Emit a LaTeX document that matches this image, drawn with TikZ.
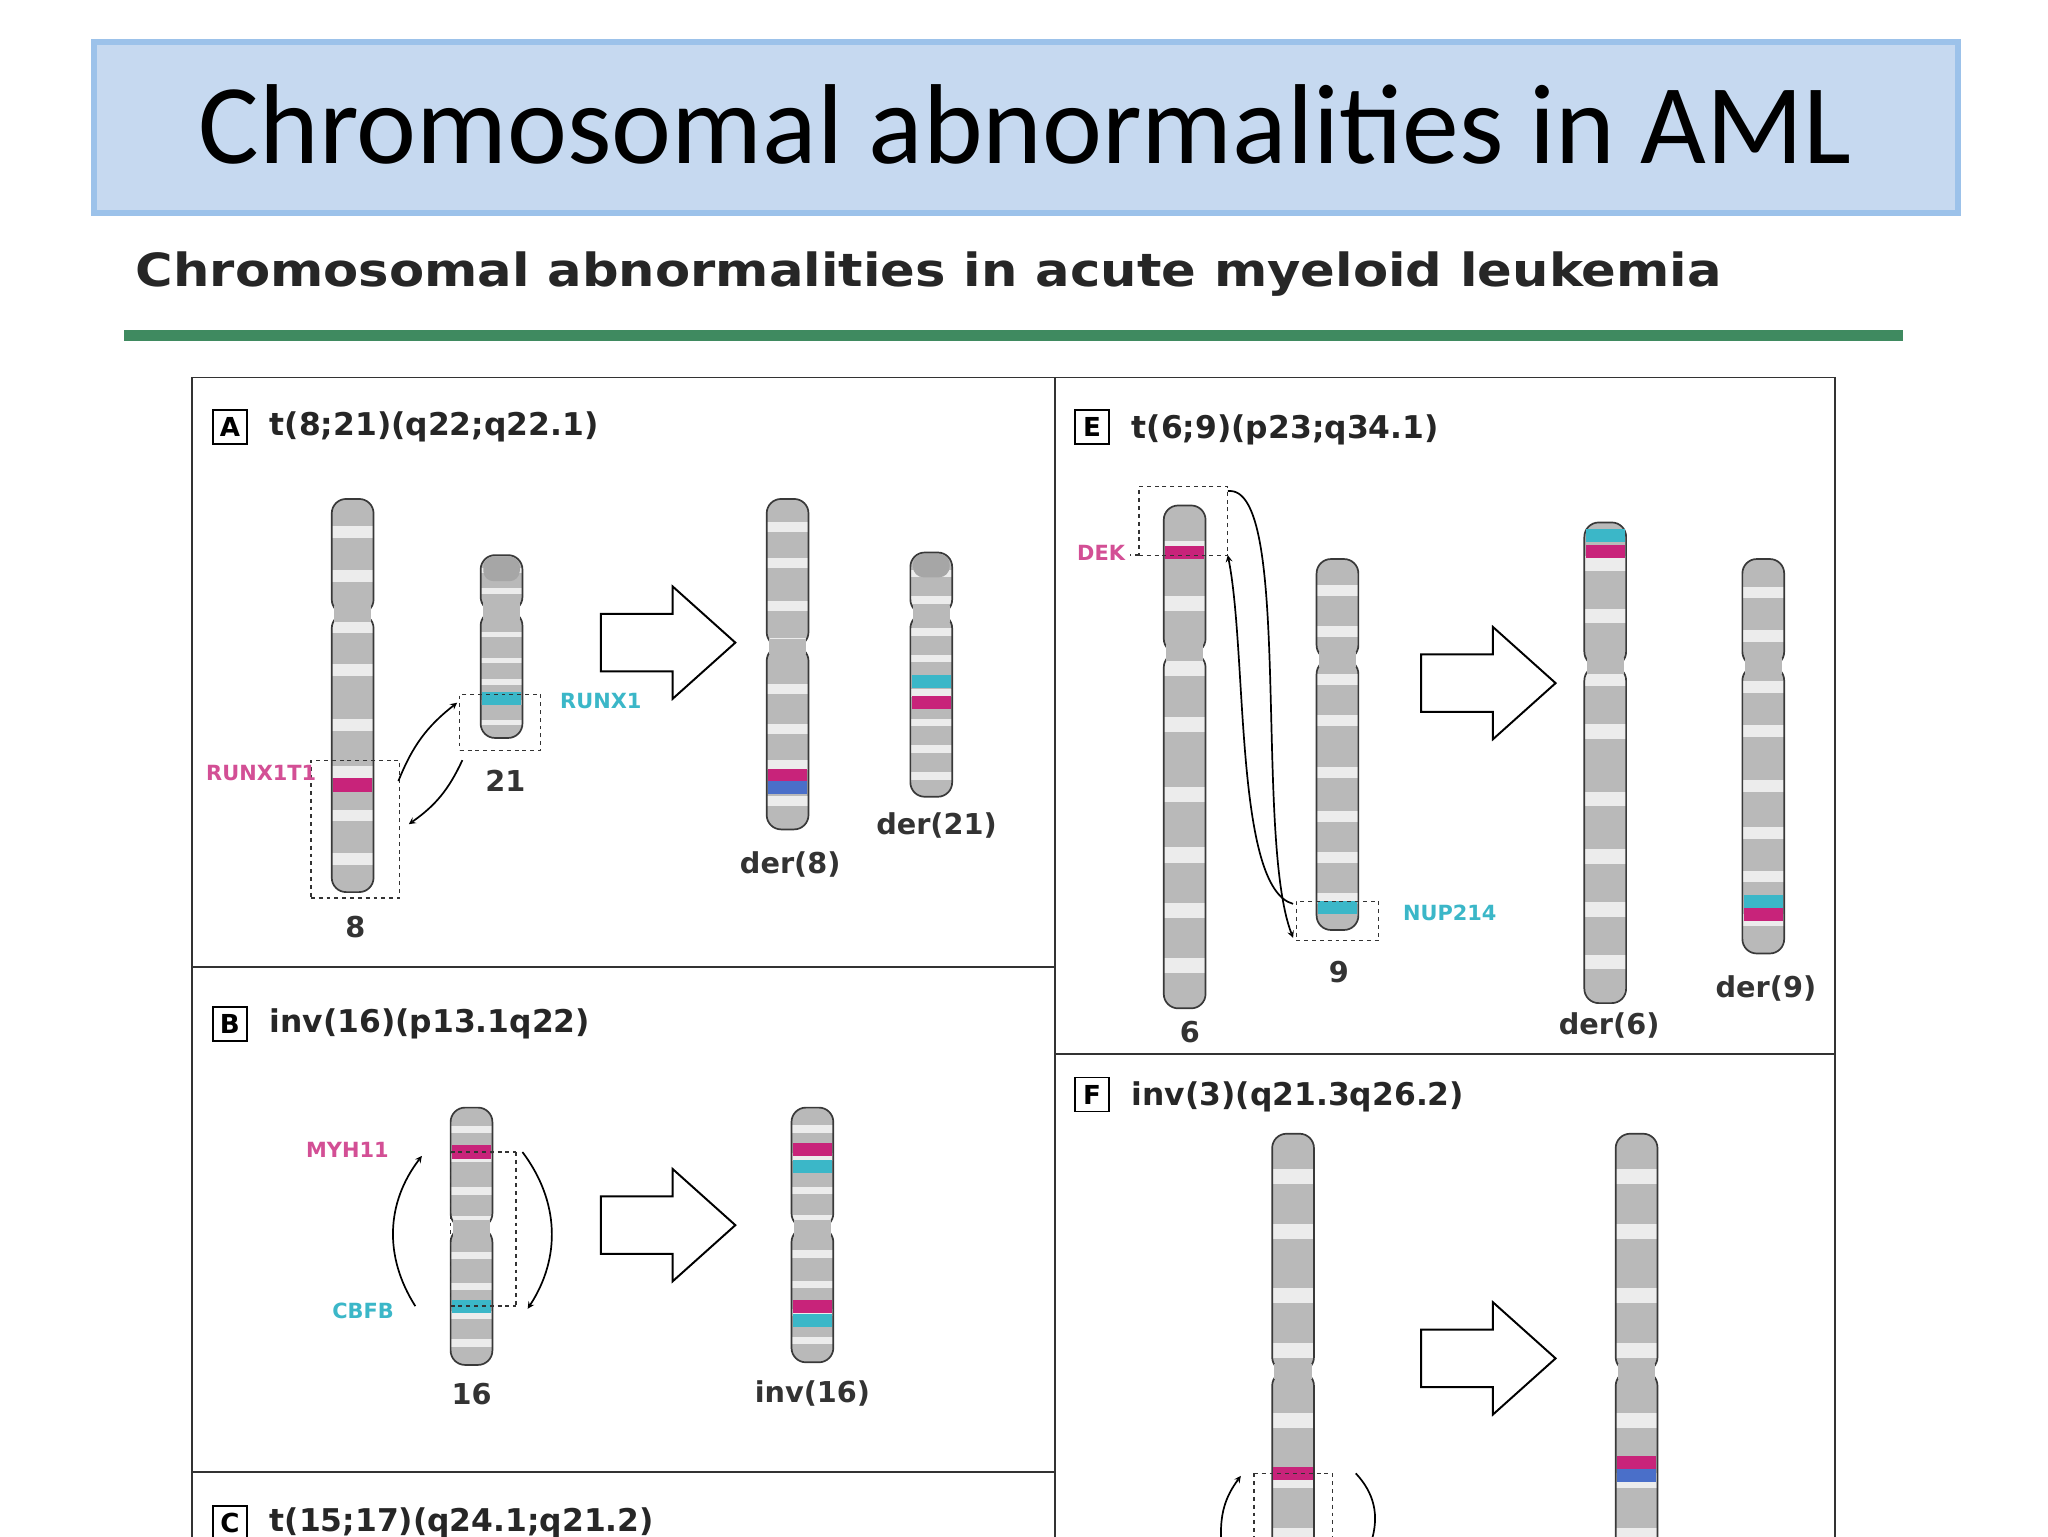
\documentclass[tikz,border=0pt]{standalone}
\usepackage{fontspec}
\setmainfont{DejaVu Sans}
\newfontfamily\titlefont{Carlito}
\definecolor{mag}{HTML}{C8237A}
\definecolor{cya}{HTML}{3BB7C8}
\definecolor{blu}{HTML}{4A6FC9}
\definecolor{tfill}{HTML}{C6D9F0}
\definecolor{tline}{HTML}{9CC2EA}
\definecolor{grn}{HTML}{3F8A60}
\newcommand\chr[4]{%
 \begin{scope}
 \path[clip,rounded corners=11] (#1-16,#2) rectangle (#1+16,#4) (#1-16,#4) rectangle (#1+16,#3);
 \fill[gray!55] (#1-16,#2) rectangle (#1+16,#3);
 \foreach \f in {0.07,0.18,0.31,0.42,0.56,0.68,0.79,0.9}
  \fill[white!85!gray] (#1-16,{#2+\f*(#3-#2)}) rectangle (#1+16,{#2+\f*(#3-#2)+0.03*(#3-#2)});
 \end{scope}
 \fill[gray!55] (#1-12,#4-5) rectangle (#1+12,#4+5);
 \draw[chrline,rounded corners=11] (#1-16,#2) rectangle (#1+16,#4);
 \draw[chrline,rounded corners=11] (#1-16,#4) rectangle (#1+16,#3);
 \fill[gray!55] (#1-14.3,#4-6) rectangle (#1+14.3,#4+6);
}
\newcommand\band[3]{\fill[#3] (#1-15,#2-5) rectangle (#1+15,#2+5);}
\newcommand\bigarrow[2]{\draw[line width=1.5,fill=white] (#1,#2-22) -- (#1+55,#2-22) -- (#1+55,#2-43) -- (#1+103,#2) -- (#1+55,#2+43) -- (#1+55,#2+22) -- (#1,#2+22) -- cycle;}
\tikzset{
 chrline/.style={draw=gray!45!black,line width=1.3},
 ptitle/.style={anchor=west,font=\bfseries\fontsize{24}{26}\selectfont,text=black!85},
 letter/.style={draw,line width=1,inner sep=2pt,minimum width=26,minimum height=26,font=\bfseries\fontsize{20}{22}\selectfont},
 clab/.style={font=\bfseries\fontsize{22}{24}\selectfont,text=black!80},
 gm/.style={font=\bfseries\fontsize{16}{18}\selectfont,text=mag!80},
 gc/.style={font=\bfseries\fontsize{16}{18}\selectfont,text=cya},
 dbox/.style={draw=gray!40!black,dashed,line width=1},
 carr/.style={-stealth,line width=1.3}
}
\begin{document}
\begin{tikzpicture}[x=1pt,y=-1pt]
\useasboundingbox (0,0) rectangle (1568,1176);
\clip (0,0) rectangle (1568,1176);
\fill[white] (0,0) rectangle (1568,1176);
% title
\draw[fill=tfill,draw=tline,line width=5] (72,32) rectangle (1499,163);
\node[font=\titlefont\fontsize{87}{100}\selectfont] (title) at (785,95) {Chromosomal abnormalities in AML};
\node[anchor=west,font=\bfseries\fontsize{35}{40}\selectfont,text=black!85,xscale=1.12] (sub) at (100,210) {Chromosomal abnormalities in acute myeloid leukemia};
\draw[grn,line width=8] (95,257) -- (1457,257);
% frames
\draw[line width=1.5,black!80] (147,289) rectangle (1405,1200);
\draw[line width=1.5,black!80] (808,289) -- (808,1200);
\draw[line width=1.5,black!80] (147,740) -- (808,740);
\draw[line width=1.5,black!80] (147,1127) -- (808,1127);
\draw[line width=1.5,black!80] (808,807) -- (1405,807);
% ---------- A
\node[letter] (lA) at (176,327) {A};
\node[ptitle] (tA) at (203,327) {t(8;21)(q22;q22.1)};
\chr{270}{382}{683}{470}
\band{270}{601}{mag}
\chr{384}{425}{565}{468}
\fill[gray!70,rounded corners=8] (370,426) rectangle (398,445);
\band{384}{535}{cya}
\node[dbox,minimum width=68,minimum height=105] (b8) at (272,635) {};
\node[dbox,minimum width=62,minimum height=43] (b21) at (383,553) {};
\node[gm] (g1) at (200,592) {RUNX1T1};
\node[gc] (g2) at (460,537) {RUNX1};
\node[clab] (n8) at (272,710) {8};
\node[clab] (n21) at (387,598) {21};
\coordinate (a1s) at (305,598); \coordinate (a1e) at (350,538);
\coordinate (a2s) at (354,582); \coordinate (a2e) at (313,631);
\draw[carr] (a1s) to[bend left=15] (a1e);
\draw[carr] (a2s) to[bend left=15] (a2e);
\bigarrow{460}{492}
\chr{603}{382}{635}{495}
\band{603}{594}{mag}\band{603}{603}{blu}
\chr{713}{423}{610}{470}
\fill[gray!70,rounded corners=8] (699,424) rectangle (727,442);
\band{713}{522}{cya}\band{713}{538}{mag}
\node[clab] (d8) at (605,662) {der(8)};
\node[clab] (d21) at (717,632) {der(21)};
% ---------- B
\node[letter] (lB) at (176,784) {B};
\node[ptitle] (tB) at (203,784) {inv(16)(p13.1q22)};
\chr{361}{848}{1045}{940}
\band{361}{882}{mag}\band{361}{1000}{cya}
\draw[dbox] (345,882) -- (345,1000) (395,882) -- (395,1000) (345,882) -- (395,882) (345,1000) -- (395,1000);
\node[gm] (g3) at (266,880) {MYH11};
\node[gc] (g4) at (278,1004) {CBFB};
\coordinate (b1s) at (318,1000); \coordinate (b1e) at (323,885);
\coordinate (b2s) at (400,882); \coordinate (b2e) at (404,1002);
\draw[carr] (b1s) to[bend left=35] (b1e);
\draw[carr] (b2s) to[bend left=35] (b2e);
\node[clab] (n16) at (361,1067) {16};
\bigarrow{460}{938}
\chr{622}{848}{1043}{940}
\band{622}{880}{mag}\band{622}{893}{cya}\band{622}{1000}{mag}\band{622}{1011}{cya}
\node[clab] (i16) at (622,1067) {inv(16)};
% ---------- C
\node[letter] (lC) at (176,1166) {C};
\node[ptitle] (tC) at (203,1166) {t(15;17)(q24.1;q21.2)};
% ---------- E
\node[letter] (lE) at (836,327) {E};
\node[ptitle] (tE) at (863,329) {t(6;9)(p23;q34.1)};
\chr{907}{387}{772}{500}
\band{907}{423}{mag}
\node[dbox,minimum width=68,minimum height=53] (b6) at (906,399) {};
\node[gm] (g5) at (843,423) {DEK};
\draw[dbox] (872,425) -- (865,425);
\node[clab] (n6) at (911,790) {6};
\chr{1024}{428}{712}{505}
\band{1024}{695}{cya}
\node[dbox,minimum width=63,minimum height=30] (b9) at (1024,705) {};
\node[gc] (g6) at (1110,699) {NUP214};
\node[clab] (n9) at (1025,744) {9};
\coordinate (e1s) at (940,376); \coordinate (e1e) at (990,718);
\coordinate (e2s) at (990,692); \coordinate (e2e) at (940,425);
\draw[carr] (e1s) .. controls (990,370) and (960,640) .. (e1e);
\draw[carr] (e2s) .. controls (945,680) and (955,500) .. (e2e);
\bigarrow{1088}{523}
\chr{1229}{400}{768}{510}
\band{1229}{410}{cya}\band{1229}{422}{mag}
\node[clab] (d6) at (1232,785) {der(6)};
\chr{1350}{428}{730}{510}
\band{1350}{690}{cya}\band{1350}{700}{mag}
\node[clab] (d9) at (1352,757) {der(9)};
% ---------- F
\node[letter] (lF) at (836,838) {F};
\node[ptitle] (tF) at (863,840) {inv(3)(q21.3q26.2)};
\chr{990}{868}{1250}{1050}
\band{990}{1128}{mag}
\draw[dbox] (960,1128) -- (960,1180) (1020,1128) -- (1020,1180) (960,1128) -- (1020,1128);
\coordinate (f1s) at (935,1180); \coordinate (f1e) at (950,1130);
\coordinate (f2s) at (1038,1128);\coordinate (f2e) at (1050,1180);
\draw[carr] (f1s) to[bend left=20] (f1e);
\draw[line width=1.3] (f2s) to[bend left=30] (f2e);
\bigarrow{1088}{1040}
\chr{1253}{868}{1250}{1050}
\band{1253}{1120}{mag}\band{1253}{1130}{blu}
\end{tikzpicture}
\end{document}
